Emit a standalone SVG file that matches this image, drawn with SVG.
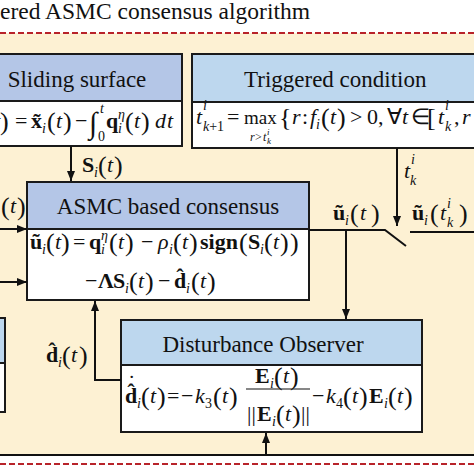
<svg xmlns="http://www.w3.org/2000/svg" width="474" height="474" viewBox="0 0 474 474">
<defs>
<marker id="ah" viewBox="0 0 10 8" refX="10" refY="4" markerWidth="10" markerHeight="8" markerUnits="userSpaceOnUse" orient="auto"><path d="M0,0 L10,4 L0,8 z" fill="#111"/></marker>
<style>
.box{stroke:#1a1a1a;stroke-width:2}
.h1{fill:#b4c6e7}
.h2{fill:#bdd7ee}
.w{fill:#ffffff}
.ln{stroke:#111;stroke-width:2;fill:none}
.dash{stroke:#b8232a;stroke-width:2.2;stroke-dasharray:6 3}
text{font-family:"Liberation Serif","Times New Roman",serif;fill:#111}
.m{font-size:22px}
.hd{font-size:23px}
.b{font-weight:bold}
.i{font-style:italic}
.s{font-size:14px}
.p{font-size:26px}
.t9{font-size:9px}
</style>
</defs>
<rect x="0" y="0" width="474" height="474" fill="#ffffff"/>
<rect x="0" y="33" width="474" height="422" fill="#fdf1d3"/>
<text x="310" y="19" text-anchor="end" font-size="23.5">ered ASMC consensus algorithm</text>
<line class="dash" x1="0" y1="33" x2="474" y2="33"/>
<line class="dash" x1="0" y1="464" x2="474" y2="464"/>

<g id="sliding-surface">
<rect class="box w" x="-5" y="54" width="187" height="92"/>
<rect class="box h1" x="-5" y="54" width="187" height="47"/>
<text class="hd" x="77" y="87" text-anchor="middle" font-size="22">Sliding surface</text>
<text class="m"><tspan class="p" x="-15" y="130">(</tspan><tspan class="i" x="-6" y="128">t</tspan><tspan class="p" x="0" y="130">)</tspan><tspan x="15" y="128">=</tspan><tspan class="b" x="31" y="128">x̃</tspan><tspan class="s i" x="42" y="133">i</tspan><tspan class="p" x="47" y="130">(</tspan><tspan class="i" x="56" y="128">t</tspan><tspan class="p" x="63" y="130">)</tspan><tspan x="75" y="128">−</tspan><tspan x="89" y="133" font-size="30">∫</tspan><tspan class="s i" x="100" y="113">t</tspan><tspan class="s" x="98" y="141">0</tspan><tspan class="b" x="106" y="128">q</tspan><tspan class="s i" x="118" y="133">i</tspan><tspan class="s i" x="118" y="119">η</tspan><tspan class="p" x="125" y="130">(</tspan><tspan class="i" x="134" y="128">t</tspan><tspan class="p" x="141" y="130">)</tspan><tspan class="i" x="155" y="128">d</tspan><tspan class="i" x="167" y="128">t</tspan></text>
</g>

<g id="triggered-condition">
<rect class="box w" x="192" y="54" width="290" height="94"/>
<rect class="box h2" x="192" y="54" width="290" height="48"/>
<text class="hd" x="244" y="87" font-size="23.5">Triggered condition</text>
<text class="m"><tspan class="i" x="196" y="124">t</tspan><tspan class="s i" x="203" y="110">i</tspan><tspan class="s" x="203" y="131"><tspan class="i">k</tspan>+1</tspan><tspan x="227" y="124">=</tspan><tspan x="244" y="124" font-size="19">max</tspan><tspan class="i" x="250" y="141" font-size="12">r</tspan><tspan x="255" y="141" font-size="12">&gt;</tspan><tspan class="i" x="263" y="141" font-size="12">t</tspan><tspan class="t9 i" x="267" y="135">i</tspan><tspan class="t9 i" x="267" y="144">k</tspan><tspan class="p" x="279" y="126">{</tspan><tspan class="i" x="292" y="124">r</tspan><tspan x="302" y="124">:</tspan><tspan class="i" x="310" y="124">f</tspan><tspan class="s i" x="316" y="129">i</tspan><tspan class="p" x="321" y="126">(</tspan><tspan class="i" x="330" y="124">t</tspan><tspan class="p" x="337" y="126">)</tspan><tspan x="350" y="124">&gt;</tspan><tspan x="367" y="124">0,</tspan><tspan x="387" y="124">∀</tspan><tspan class="i" x="402" y="124">t</tspan><tspan x="411" y="124">∈</tspan><tspan class="p" x="427" y="126">[</tspan><tspan class="i" x="438" y="124">t</tspan><tspan class="s i" x="445" y="110">i</tspan><tspan class="s i" x="445" y="131">k</tspan><tspan x="454" y="124">,</tspan><tspan class="i" x="462" y="124">r</tspan></text>
</g>

<g id="asmc">
<rect class="box w" x="27" y="182" width="282" height="118"/>
<rect class="box h1" x="27" y="182" width="282" height="47"/>
<text class="hd" x="168" y="214" text-anchor="middle" font-size="24">ASMC based consensus</text>
<text class="m"><tspan class="b" x="30" y="249">ũ</tspan><tspan class="s i" x="42" y="254">i</tspan><tspan class="p" x="46" y="251">(</tspan><tspan class="i" x="55" y="249">t</tspan><tspan class="p" x="61" y="251">)</tspan><tspan x="73" y="249">=</tspan><tspan class="b" x="89" y="249">q</tspan><tspan class="s i" x="101" y="254">i</tspan><tspan class="s i" x="101" y="240">η</tspan><tspan class="p" x="109" y="251">(</tspan><tspan class="i" x="118" y="249">t</tspan><tspan class="p" x="125" y="251">)</tspan><tspan x="141" y="249">−</tspan><tspan class="i" x="158" y="249">ρ</tspan><tspan class="s i" x="169" y="254">i</tspan><tspan class="p" x="173" y="251">(</tspan><tspan class="i" x="182" y="249">t</tspan><tspan class="p" x="189" y="251">)</tspan><tspan class="b" x="200" y="249">sign</tspan><tspan class="p" x="239" y="251">(</tspan><tspan class="b" x="248" y="249">S</tspan><tspan class="s i" x="260" y="254">i</tspan><tspan class="p" x="264" y="251">(</tspan><tspan class="i" x="273" y="249">t</tspan><tspan class="p" x="280" y="251">)</tspan><tspan class="p" x="290" y="251">)</tspan></text>
<text class="m"><tspan x="85" y="288">−</tspan><tspan class="b" x="98" y="288">Λ</tspan><tspan class="b" x="113" y="288">S</tspan><tspan class="s i" x="125" y="293">i</tspan><tspan class="p" x="129" y="290">(</tspan><tspan class="i" x="138" y="288">t</tspan><tspan class="p" x="145" y="290">)</tspan><tspan x="158" y="288">−</tspan><tspan class="b" x="174" y="288">d̂</tspan><tspan class="s i" x="186" y="293">i</tspan><tspan class="p" x="191" y="290">(</tspan><tspan class="i" x="200" y="288">t</tspan><tspan class="p" x="207" y="290">)</tspan></text>
</g>

<g id="disturbance-observer">
<rect class="box w" x="121" y="320" width="301" height="112"/>
<rect class="box h2" x="121" y="320" width="301" height="45"/>
<text class="hd" x="263" y="352" text-anchor="middle" font-size="24">Disturbance Observer</text>
<text class="m"><tspan class="b" x="125" y="403">d̂</tspan><tspan x="128" y="390">˙</tspan><tspan class="s i" x="137" y="408">i</tspan><tspan class="p" x="141" y="405">(</tspan><tspan class="i" x="150" y="403">t</tspan><tspan class="p" x="157" y="405">)</tspan><tspan x="167" y="403">=</tspan><tspan x="181" y="403">−</tspan><tspan class="i" x="195" y="403">k</tspan><tspan class="s" x="205" y="408">3</tspan><tspan class="p" x="213" y="405">(</tspan><tspan class="i" x="222" y="403">t</tspan><tspan class="p" x="229" y="405">)</tspan><tspan class="b" x="255" y="383">E</tspan><tspan class="s i" x="270" y="388">i</tspan><tspan class="p" x="274" y="385">(</tspan><tspan class="i" x="283" y="383">t</tspan><tspan class="p" x="290" y="385">)</tspan><tspan x="247" y="421">||</tspan><tspan class="b" x="257" y="421">E</tspan><tspan class="s i" x="272" y="426">i</tspan><tspan class="p" x="276" y="423">(</tspan><tspan class="i" x="285" y="421">t</tspan><tspan class="p" x="292" y="423">)</tspan><tspan x="301" y="421">||</tspan><tspan x="312" y="403">−</tspan><tspan class="i" x="326" y="403">k</tspan><tspan class="s" x="336" y="408">4</tspan><tspan class="p" x="343" y="405">(</tspan><tspan class="i" x="352" y="403">t</tspan><tspan class="p" x="359" y="405">)</tspan><tspan class="b" x="369" y="403">E</tspan><tspan class="s i" x="384" y="408">i</tspan><tspan class="p" x="388" y="405">(</tspan><tspan class="i" x="397" y="403">t</tspan><tspan class="p" x="404" y="405">)</tspan></text>
<line x1="246" y1="389" x2="310" y2="389" stroke="#111" stroke-width="1.2"/>
</g>

<g id="left-box">
<rect class="box w" x="-10" y="318" width="15" height="94"/>
<rect class="box h2" x="-10" y="318" width="15" height="45"/>
</g>

<g id="connectors">
<line class="ln" x1="71" y1="146" x2="71" y2="181" marker-end="url(#ah)"/>
<line class="ln" x1="397" y1="148" x2="397" y2="226" marker-end="url(#ah)"/>
<polyline class="ln" points="309,230 385,230 406,246"/>
<line class="ln" x1="410" y1="232" x2="474" y2="232"/>
<line class="ln" x1="346" y1="230" x2="346" y2="319" marker-end="url(#ah)"/>
<polyline class="ln" points="121,380 95,380 95,301" marker-end="url(#ah)"/>
<line class="ln" x1="0" y1="455" x2="474" y2="455"/>
<line class="ln" x1="266" y1="455" x2="266" y2="433" marker-end="url(#ah)"/>
<line class="ln" x1="0" y1="229" x2="27" y2="229" marker-end="url(#ah)"/>
<line class="ln" x1="0" y1="282" x2="27" y2="282" marker-end="url(#ah)"/>
<text class="m"><tspan class="b" x="82" y="172">S</tspan><tspan class="s i" x="94" y="177">i</tspan><tspan class="p" x="98" y="174">(</tspan><tspan class="i" x="107" y="172">t</tspan><tspan class="p" x="114" y="174">)</tspan></text>
<text class="m"><tspan class="i" x="404" y="178">t</tspan><tspan class="s i" x="411" y="164">i</tspan><tspan class="s i" x="410" y="185">k</tspan></text>
<text class="m"><tspan class="b" x="333" y="220">ũ</tspan><tspan class="s i" x="345" y="225">i</tspan><tspan class="p" x="350" y="222">(</tspan><tspan class="i" x="360" y="220">t</tspan><tspan class="p" x="371" y="222">)</tspan></text>
<text class="m"><tspan class="b" x="412" y="220">ũ</tspan><tspan class="s i" x="424" y="225">i</tspan><tspan class="p" x="430" y="222">(</tspan><tspan class="i" x="440" y="220">t</tspan><tspan class="s i" x="447" y="208">i</tspan><tspan class="s i" x="447" y="227">k</tspan><tspan class="p" x="459" y="222">)</tspan></text>
<text class="m"><tspan class="b" x="46" y="362">d̂</tspan><tspan class="s i" x="58" y="367">i</tspan><tspan class="p" x="62" y="364">(</tspan><tspan class="i" x="71" y="362">t</tspan><tspan class="p" x="79" y="364">)</tspan></text>
<text class="m"><tspan class="p" x="1" y="215">(</tspan><tspan class="i" x="10" y="213">t</tspan><tspan class="p" x="17" y="215">)</tspan></text>
</g>
</svg>
